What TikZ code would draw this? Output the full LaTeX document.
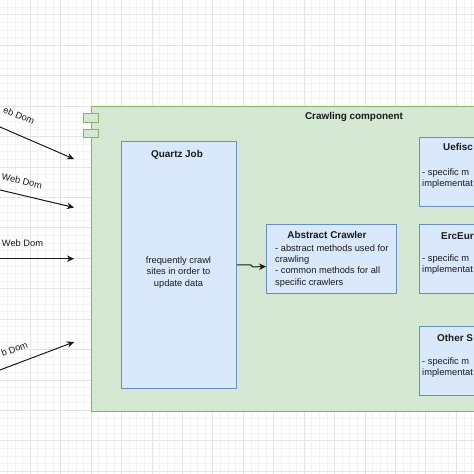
\documentclass[tikz,border=0pt]{standalone}
\usepackage{fontspec}
\setmainfont{Liberation Sans}
\usetikzlibrary{arrows.meta}
\definecolor{gfill}{HTML}{D5E8D4}
\definecolor{gline}{HTML}{82B366}
\definecolor{bfill}{HTML}{DAE8FC}
\definecolor{bline}{HTML}{6C8EBF}
\definecolor{minorgrid}{HTML}{F3F3F3}
\definecolor{majorgrid}{HTML}{E4E4E4}
\definecolor{ink}{HTML}{1A1A1A}
\begin{document}
\begin{tikzpicture}[x=1pt,y=-1pt,
  bluebox/.style={draw=bline,fill=bfill,line width=0.8pt,inner sep=0pt,anchor=north west},
  greenbox/.style={draw=gline,fill=gfill,line width=0.8pt,inner sep=0pt,anchor=north west},
  txt/.style={font=\fontsize{9.3}{11.4}\selectfont,text=ink,inner sep=0pt},
  ttl/.style={font=\fontsize{9.9}{11.4}\selectfont\bfseries,text=ink,inner sep=0pt},
  conn/.style={draw=ink,line width=1pt,-{Stealth[length=7pt,width=6.5pt]}}]
\useasboundingbox (0,0) rectangle (474,474);
\clip (0,0) rectangle (474,474);
\fill[white] (0,0) rectangle (474,474);
% grid
\foreach \k in {0,...,63} {
  \draw[minorgrid,line width=0.5pt] ({-0.29+7.6075*\k},0) -- ({-0.29+7.6075*\k},474);
  \draw[minorgrid,line width=0.5pt] (0,{-0.5+7.6075*\k}) -- (474,{-0.5+7.6075*\k});
}
\foreach \k in {0,...,16} {
  \draw[majorgrid,line width=0.6pt] ({-0.29+30.43*\k},0) -- ({-0.29+30.43*\k},474);
  \draw[majorgrid,line width=0.6pt] (0,{-15.72+30.43*\k}) -- (474,{-15.72+30.43*\k});
}
% container
\node[greenbox,minimum width=400pt,minimum height=305pt] (cc) at (91,106) {};
\node[greenbox,minimum width=15pt,minimum height=8.5pt] (p1) at (83,113) {};
\node[greenbox,minimum width=15pt,minimum height=8pt] (p2) at (83,129) {};
\node[ttl] (cct) at (354,117) {Crawling component};
% quartz job
\node[bluebox,minimum width=115pt,minimum height=247pt] (qj) at (121,141) {};
\node[ttl] (qjt) at (177,154.5) {Quartz Job};
\node[txt,align=center] (qjb) at (178.5,272.5) {frequently crawl\\sites in order to\\update data};
% abstract crawler
\node[bluebox,minimum width=130pt,minimum height=69pt] (ac) at (266,224) {};
\node[ttl] (act) at (327,234.5) {Abstract Crawler};
\node[txt,align=left,anchor=north west] (acb) at (275,244.2) {- abstract methods used for\\crawling\\- common methods for all\\specific crawlers};
% right boxes
\node[bluebox,minimum width=130pt,minimum height=69pt] (ue) at (419,137) {};
\node[ttl,anchor=west] (uet) at (443,146.5) {Uefisc};
\node[txt,align=left,anchor=north west] (ueb) at (422,168.5) {- specific m\\implementat};
\node[bluebox,minimum width=130pt,minimum height=69pt] (er) at (419,224) {};
\node[ttl,anchor=west] (ert) at (441,236) {ErcEur};
\node[txt,align=left,anchor=north west] (erb) at (422,254.5) {- specific m\\implementat};
\node[bluebox,minimum width=130pt,minimum height=69pt] (ot) at (419,326) {};
\node[ttl,anchor=west] (ott) at (437,337.5) {Other S};
\node[txt,align=left,anchor=north west] (otb) at (422,357.5) {- specific m\\implementat};
% connector quartz -> abstract
\draw[conn] (qj.east) -- ++(14,0) -- ++(2,2) -- (ac.west |- 0,266.5);
% left arrows
\coordinate (s1) at (-40,109.7); \coordinate (e1) at (74,159);
\coordinate (s2) at (-40,180.5); \coordinate (e2) at (74,207.5);
\coordinate (s3) at (-40,258.7); \coordinate (e3) at (74,258.7);
\coordinate (s4) at (-40,385.1); \coordinate (e4) at (74,342);
\draw[conn] (s1) -- (e1);
\draw[conn] (s2) -- (e2);
\draw[conn] (s3) -- (e3);
\draw[conn] (s4) -- (e4);
\node[txt,rotate=-23.4] (l1) at (19,115.5) {eb Dom};
\node[txt,rotate=-13.3] (l2) at (22,181) {Web Dom};
\node[txt] (l3) at (22.5,243.3) {Web Dom};
\node[txt,rotate=20.7] (l4) at (14.5,349) {b Dom};
\end{tikzpicture}
\end{document}
